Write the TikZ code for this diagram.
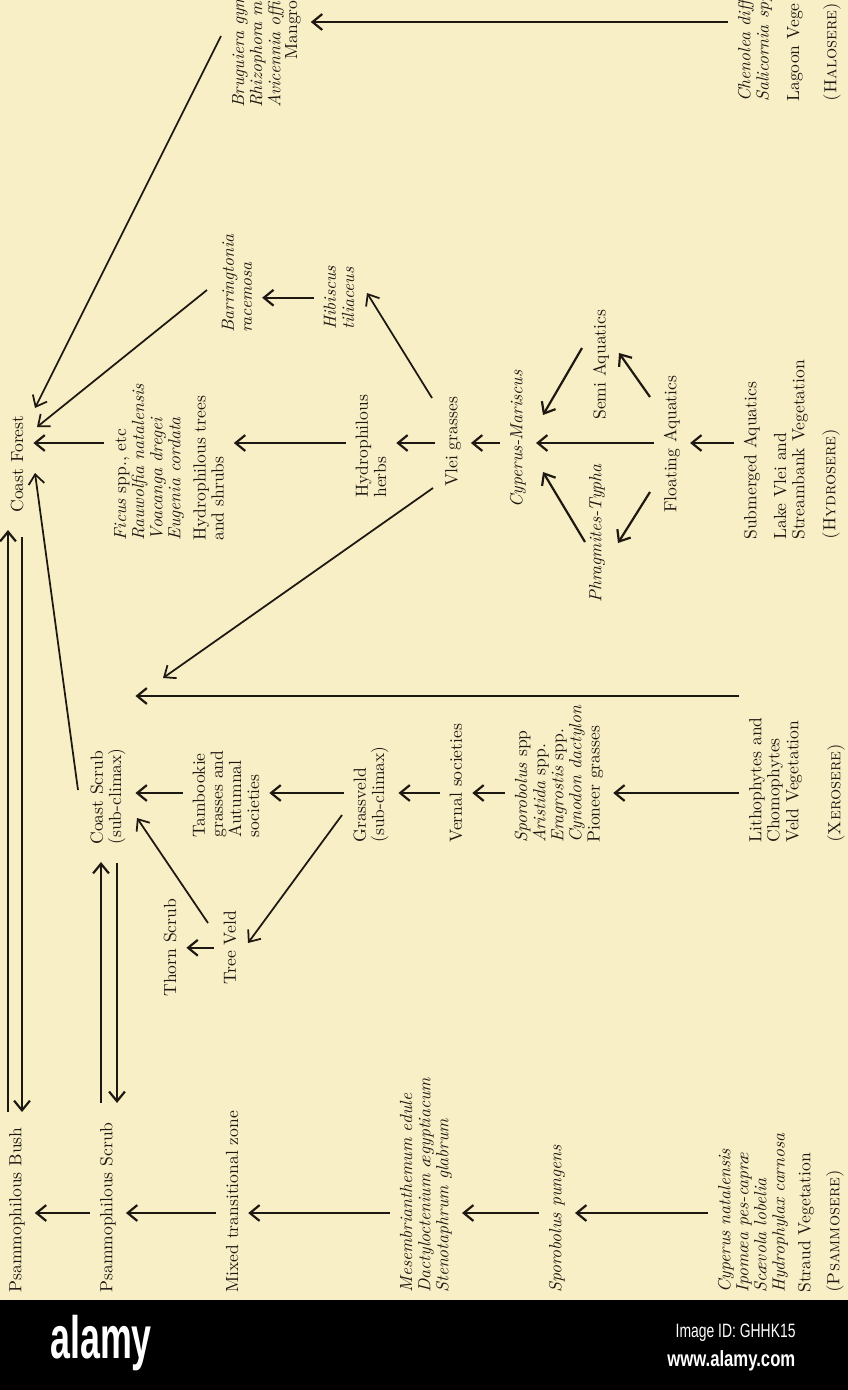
\documentclass[tikz,border=0pt]{standalone}
\usepackage{fontspec}
\usepackage{xcolor}
\usepackage{tikz}
\usetikzlibrary{arrows.meta,calc}
\newfontfamily\bannerfont{Liberation Sans}
\definecolor{paper}{RGB}{249,239,198}
\definecolor{ink}{RGB}{30,24,18}

\begin{document}
\begin{tikzpicture}[x=0.02cm, y=-0.02cm,
    stage/.style={rotate=90, anchor=west, align=left, inner xsep=0pt,
      inner ysep=5.5pt, text=ink, font=\fontsize{10}{10.3}\selectfont},
    species/.style={stage, font=\fontsize{10}{10.3}\selectfont\itshape},
    post/.style={-{Straight Barb[length=5.5pt,width=9pt]}, draw=ink, line width=1.25pt},
    longpost/.style={post, line width=1pt}]

  \useasboundingbox (0,0) rectangle (848,1390);
  \clip (0,0) rectangle (848,1390);
  \fill[paper] (0,0) rectangle (848,1390);

  % rows of the arrows
  \coordinate (rowH) at (0,22);
  \coordinate (rowW) at (0,443);
  \coordinate (rowL) at (0,696);
  \coordinate (rowX) at (0,793);
  \coordinate (rowP) at (0,1213);

  % halosere
  \node[species] (mangrove) at (258,108) {Bruguiera gym\\Rhizophora m\\Avicennia offi};
  \node[stage] (swamp) at (293,60) {Mangro};
  \node[species] (chenolea) at (755,102) {Chenolea diff\\Salicornia spp};
  \node[stage] (lagoon) at (795,102) {Lagoon Vege};
  \node[stage] (halosere) at (832,102) {\textsc{(Halosere)}};

  % hydrosere
  \node[stage] (cforest) at (17,513) {Coast Forest};
  \node[stage] (hydtrees) at (169,541) {\textit{Ficus} spp., etc\\ \textit{Rauwolfia natalensis}\\ \textit{Voacanga dregei}\\ \textit{Eugenia cordata}\\[4pt] Hydrophilous trees\\ and shrubs};
  \node[species] (barring) at (237,333) {Barringtonia\\racemosa};
  \node[species] (hibiscus) at (339,330) {Hibiscus\\tiliaceus};
  \node[stage] (hydherbs) at (371,498) {Hydrophilous\\herbs};
  \node[stage] (vlei) at (453,487) {Vlei grasses};
  \node[species] (cyperus) at (518,508) {Cyperus-Mariscus};
  \node[species] (phrag) at (597,603) {Phragmites-Typha};
  \node[stage] (semi) at (601,420) {Semi Aquatics};
  \node[stage] (floating) at (672,513) {Floating Aquatics};
  \node[stage] (submerged) at (752,540) {Submerged Aquatics};
  \node[stage] (lakevlei) at (791,540) {Lake Vlei and\\Streambank Vegetation};
  \node[stage] (hydrosere) at (831,540) {\textsc{(Hydrosere)}};

  % xerosere
  \node[stage] (cscrub) at (108,845) {Coast Scrub\\(sub-climax)};
  \node[stage] (thorn) at (170,997) {Thorn Scrub};
  \node[stage] (treeveld) at (230,985) {Tree Veld};
  \node[stage] (tambookie) at (226,838) {Tambookie\\grasses and\\Autumnal\\societies};
  \node[stage] (grassveld) at (371,843) {Grassveld\\(sub-climax)};
  \node[stage] (vernal) at (456,843) {Vernal societies};
  \node[stage] (pioneer) at (559,843) {\textit{Sporobolus} spp\\ \textit{Aristida} spp.\\ \textit{Eragrostis} spp.\\ \textit{Cynodon dactylon}\\ Pioneer grasses};
  \node[stage] (lithophytes) at (766,843) {Lithophytes and\\Chomophytes};
  \node[stage] (veld) at (794,843) {Veld Vegetation};
  \node[stage] (xerosere) at (836,843) {\textsc{(Xerosere)}};

  % psammosere
  \node[stage] (psbush) at (17,1293) {Psammophilous Bush};
  \node[stage] (psscrub) at (108,1293) {Psammophilous Scrub};
  \node[stage] (mixed) at (232,1293) {Mixed transitional zone};
  \node[species] (mesem) at (426,1293) {Mesembrianthemum edule\\Dactyloctenium ægyptiacum\\Stenotaphrum glabrum};
  \node[species] (sppungens) at (557,1293) {Sporobolus pungens};
  \node[species] (cypnat) at (753,1293) {Cyperus natalensis\\Ipomœa pes-capræ\\Scævola lobelia\\Hydrophylax carnosa};
  \node[stage] (strand) at (806,1293) {Straud Vegetation};
  \node[stage] (psammosere) at (835,1293) {\textsc{(Psammosere)}};

  % arrows to the coast forest
  \draw[post] (chenolea.north |- rowH) -- (swamp.south |- rowH);
  \draw[longpost] ($(mangrove.west)+(-37,-72)$) -- ($(cforest.west)+(18,-105)$);
  \draw[longpost] ($(barring.west)+(-30,-43)$) -- ($(cforest.west)+(20,-86)$);
  \draw[post] (hydtrees.north |- rowW) -- (cforest.south |- rowW);
  \draw[longpost] ($(cscrub.west)+(-30,-55)$) -- ($(cforest.west)+(18,-40)$);
  \draw[post] ($(psbush.east)+(-9,-15)$) -- ($(cforest.west)+(-9,17)$);
  \draw[post] ($(cforest.west)+(5,24)$) -- ($(psbush.east)+(5,-15)$);

  % hydrosere arrows
  \draw[post] (hibiscus.north) -- (barring.south |- hibiscus.north);
  \draw[post] (hydherbs.north |- rowW) -- (hydtrees.south |- rowW);
  \draw[post] (vlei.north |- rowW) -- (hydherbs.south |- rowW);
  \draw[longpost] ($(vlei.west)+(-21,-89)$) -- ($(hibiscus.west)+(28,-37)$);
  \draw[longpost] ($(vlei.west)+(-20,1)$) -- ($(cscrub.west)+(55,-167)$);
  \draw[post] (cyperus.north |- rowW) -- (vlei.south |- rowW);
  \draw[post] (floating.north |- rowW) -- (cyperus.south |- rowW);
  \draw[post] ($(semi.west)+(-19,-72)$) -- ($(cyperus.west)+(25,-93)$);
  \draw[post] ($(floating.west)+(-22,-116)$) -- ($(semi.west)+(18,-67)$);
  \draw[post] ($(phrag.west)+(-12,-61)$) -- ($(cyperus.west)+(25,-36)$);
  \draw[post] ($(floating.west)+(-22,-21)$) -- ($(phrag.west)+(21,-60)$);
  \draw[post] (submerged.north |- rowW) -- (floating.south |- rowW);

  % xerosere arrows
  \draw[post] (lithophytes.north |- rowL) -- (cscrub.south |- rowL);
  \draw[post] (tambookie.north |- rowX) -- (cscrub.south |- rowX);
  \draw[post] (grassveld.north |- rowX) -- (tambookie.south |- rowX);
  \draw[post] (vernal.north |- rowX) -- (grassveld.south |- rowX);
  \draw[post] (pioneer.north |- rowX) -- (vernal.south |- rowX);
  \draw[post] (lithophytes.north |- rowX) -- (pioneer.south |- rowX);
  \draw[post] (treeveld.north) -- (thorn.south |- treeveld.north);
  \draw[longpost] ($(treeveld.west)+(-22,-62)$) -- ($(cscrub.west)+(29,-27)$);
  \draw[longpost] ($(grassveld.west)+(-29,-28)$) -- ($(treeveld.west)+(18,-42)$);
  \draw[post] ($(psscrub.east)+(-7,-19)$) -- ($(cscrub.west)+(-7,17)$);
  \draw[post] ($(cscrub.west)+(9,18)$) -- ($(psscrub.east)+(9,-19)$);

  % psammosere arrows
  \draw[post] (psscrub.north |- rowP) -- (psbush.south |- rowP);
  \draw[post] (mixed.north |- rowP) -- (psscrub.south |- rowP);
  \draw[post] (mesem.north |- rowP) -- (mixed.south |- rowP);
  \draw[post] (sppungens.north |- rowP) -- (mesem.south |- rowP);
  \draw[post] (cypnat.north |- rowP) -- (sppungens.south |- rowP);

  % banner
  \fill[black] (0,1300) rectangle (848,1390);
  \node[font=\bannerfont\bfseries\fontsize{34}{34}\selectfont, text=white, xscale=0.6] (logo) at (101,1343) {alamy};
  \node[font=\bannerfont\fontsize{11}{11}\selectfont, text=white, anchor=east, xscale=0.72] (imageid) at (800,1333) {Image ID: GHHK15};
  \node[font=\bannerfont\bfseries\fontsize{12.5}{12.5}\selectfont, text=white, anchor=east, xscale=0.76] (www) at (800,1361) {www.alamy.com};
\end{tikzpicture}
\end{document}
